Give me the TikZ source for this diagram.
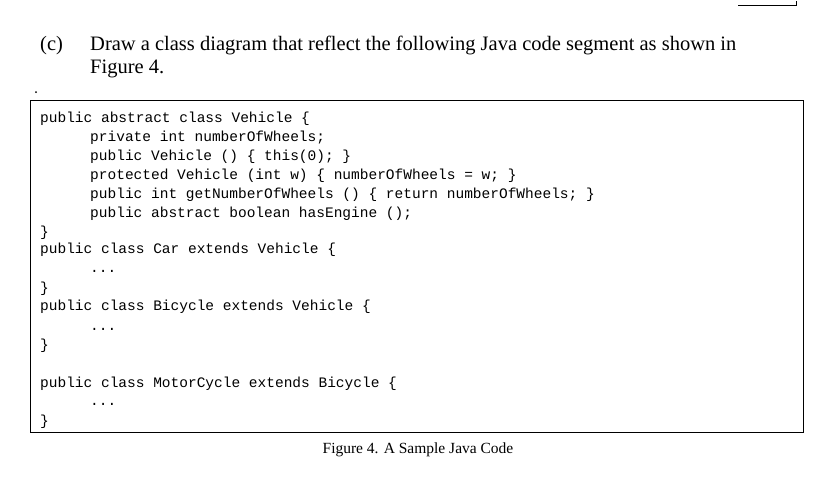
\documentclass[tikz,border=0pt]{standalone}
\usepackage{fontspec}
\setmainfont{Liberation Serif}
\newfontfamily\codefont{Liberation Mono}
\begin{document}
\begin{tikzpicture}[x=1pt,y=-1pt,
  txt/.style={anchor=base west,inner sep=0pt,font=\fontsize{20.5}{22}\selectfont},
  code/.style={anchor=base west,inner sep=0pt,font=\codefont\fontsize{14.5}{16}\selectfont}]
\useasboundingbox (0,0) rectangle (817,477);
\draw[line width=0.8pt] (738,5) -- (796,5) -- (796,1);
\node[txt] (c) at (40,50) {(c)};
\node[txt] (q1) at (90,50) {Draw a class diagram that reflect the following Java code segment as shown in};
\node[txt] (q2) at (90,73) {Figure 4.};
\fill (36,92) circle (1pt);
\draw[line width=0.9pt] (30,100) rectangle (803,432);
\node[code] (l1) at (40,122) {public abstract class Vehicle \{};
\node[code] (l2) at (90,141) {private int numberOfWheels;};
\node[code] (l3) at (90,160) {public Vehicle () \{ this(0); \}};
\node[code] (l4) at (90,179) {protected Vehicle (int w) \{ numberOfWheels = w; \}};
\node[code] (l5) at (90,198) {public int getNumberOfWheels () \{ return numberOfWheels; \}};
\node[code] (l6) at (90,217) {public abstract boolean hasEngine ();};
\node[code] (l7) at (40,236) {\}};
\node[code] (l8) at (40,253) {public class Car extends Vehicle \{};
\node[code] (l9) at (90,272) {...};
\node[code] (l10) at (40,292) {\}};
\node[code] (l11) at (40,310) {public class Bicycle extends Vehicle \{};
\node[code] (l12) at (90,330) {...};
\node[code] (l13) at (40,349) {\}};
\node[code] (l14) at (40,387) {public class MotorCycle extends Bicycle \{};
\node[code] (l15) at (90,405) {...};
\node[code] (l16) at (40,425) {\}};
\node[anchor=base,inner sep=0pt,font=\fontsize{15.5}{18}\selectfont] (cap) at (418,453) {Figure 4. A Sample Java Code};
\end{tikzpicture}
\end{document}
